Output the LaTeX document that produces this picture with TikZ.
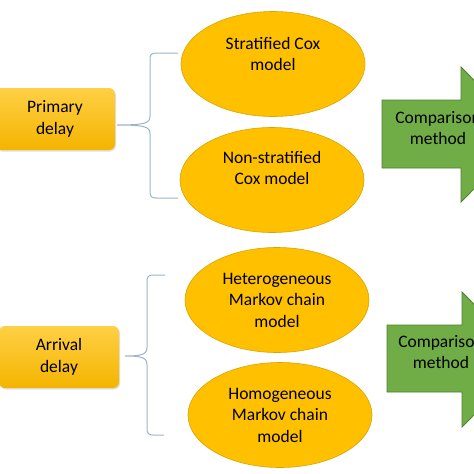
\documentclass[tikz,border=0pt]{standalone}
\usepackage{fontspec}
\setmainfont{Carlito}
\usetikzlibrary{shapes.geometric,shadows}
\definecolor{goldfill}{HTML}{FFC000}
\definecolor{goldline}{HTML}{D9A300}
\definecolor{goldtop}{HTML}{FFD045}
\definecolor{goldbot}{HTML}{F4B400}
\definecolor{greenfill}{HTML}{70AD47}
\definecolor{greenline}{HTML}{507E32}
\definecolor{bracecol}{HTML}{9DB3C8}
\tikzset{
  lbl/.style={align=center, font=\fontsize{17.5}{21.5}\selectfont, inner sep=0pt},
  delaybox/.style={lbl, rounded corners=6pt, minimum width=120pt, minimum height=62pt,
    top color=goldtop, bottom color=goldbot,
    drop shadow={opacity=0.25, shadow xshift=1pt, shadow yshift=-1.5pt}},
  modelell/.style={ellipse, draw=goldline, fill=goldfill, line width=0.6pt,
    minimum width=184pt, minimum height=105pt, inner sep=0pt},
  bracket/.style={draw=bracecol, line width=1pt},
  cmparrow/.style={draw=greenline, fill=greenfill, line width=0.8pt},
}
\begin{document}
\begin{tikzpicture}[x=1pt,y=-1pt]
\useasboundingbox (0,0) rectangle (474,474);
\clip (0,0) rectangle (474,474);

% delay boxes
\node[delaybox] (prim) at (55,119) {Primary\\delay};
\node[delaybox] (arr) at (59,357) {Arrival\\delay};

% model ellipses
\node[modelell] (strat) at (273,64) {};
\node[lbl] (strattxt) at ([yshift=10pt]strat.center) {Stratified Cox\\model};
\node[modelell] (nonstrat) at (272,180) {};
\node[lbl] (nonstrattxt) at ([yshift=12pt]nonstrat.center) {Non-stratified\\Cox model};
\node[modelell] (hetero) at (277,300) {};
\node[lbl] (heterotxt) at (hetero.center) {Heterogeneous\\Markov chain\\model};
\node[modelell] (homo) at (280,415) {};
\node[lbl] (homotxt) at (homo.center) {Homogeneous\\Markov chain\\model};

% brackets
\coordinate (bt1) at (178,53);
\coordinate (bt2) at (117,125);
\coordinate (bt3) at (178,198);
\draw[bracket] (bt1) -- (156,53) .. controls (151,53) and (150,55) .. (150,60)
  -- (150,116) .. controls (150,123) and (146,125) .. (bt2)
  .. controls (146,125) and (150,127) .. (150,134)
  -- (150,191) .. controls (150,196) and (151,198) .. (156,198) -- (bt3);
\coordinate (bb1) at (165,275);
\coordinate (bb2) at (125,356);
\coordinate (bb3) at (164,435);
\draw[bracket] (bb1) -- (153,275) .. controls (148,275) and (147,277) .. (147,282)
  -- (147,347) .. controls (147,354) and (143,356) .. (bb2)
  .. controls (143,356) and (147,358) .. (147,365)
  -- (147,428) .. controls (147,433) and (148,435) .. (153,435) -- (bb3);

% comparison arrows
\draw[cmparrow] (382,100) -- (461,100) -- (461,67) -- (528,134.5) -- (461,202)
  -- (461,168) -- (382,168) -- cycle;
\node[lbl] (cmp1) at (438,128) {Comparison\\method};
\draw[cmparrow] (387,325) -- (462,325) -- (462,292) -- (529,359.5) -- (462,427)
  -- (462,392) -- (387,392) -- cycle;
\node[lbl] (cmp2) at (441,352) {Comparison\\method};
\end{tikzpicture}
\end{document}
